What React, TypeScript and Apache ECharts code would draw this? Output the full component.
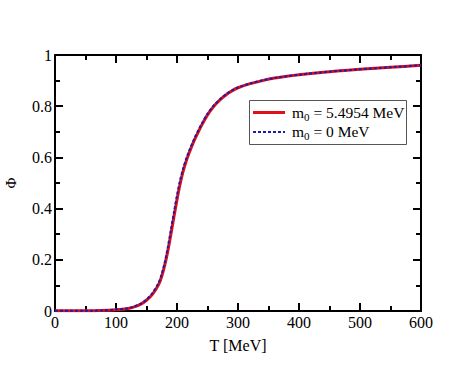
import React, { useEffect, useRef } from "react";
import * as echarts from "echarts";

const temperatures = [0, 25, 50, 75, 100, 120, 130, 140, 150, 160, 170, 175, 180, 185, 190, 195, 200, 205, 210, 215, 220, 225, 230, 235, 240, 250, 260, 270, 280, 290, 300, 320, 340, 360, 380, 400, 450, 500, 550, 600];
const phiMassive = [0.0005, 0.001, 0.001, 0.002, 0.005, 0.010, 0.016, 0.026, 0.042, 0.066, 0.104, 0.136, 0.180, 0.235, 0.30, 0.368, 0.435, 0.495, 0.545, 0.585, 0.618, 0.648, 0.675, 0.70, 0.724, 0.766, 0.799, 0.824, 0.844, 0.86, 0.872, 0.888, 0.90, 0.91, 0.917, 0.923, 0.935, 0.944, 0.952, 0.960];
const phiMassless = [0.0005, 0.001, 0.001, 0.002, 0.006, 0.011, 0.018, 0.028, 0.045, 0.071, 0.111, 0.145, 0.191, 0.25, 0.318, 0.386, 0.452, 0.51, 0.556, 0.594, 0.626, 0.655, 0.682, 0.706, 0.729, 0.770, 0.802, 0.826, 0.846, 0.861, 0.873, 0.889, 0.901, 0.91, 0.917, 0.923, 0.935, 0.944, 0.952, 0.960];
const seriesNames = ["m0 = 5.4954 MeV", "m0 = 0 MeV"];
const legendLabels = ["{a|m}{s|0}{a| = 5.4954 MeV}", "{a|m}{s|0}{a| = 0 MeV}"];
const xTicks = { min: 0, max: 600, interval: 100 };
const yTicks = { min: 0, max: 1, interval: 0.2 };

const FONT = "'Liberation Serif', 'DejaVu Serif', serif";
const RED = "#e0101a";
const BLUE = "#1c1ca8";

export default function App() {
  const ref = useRef<HTMLDivElement>(null);
  useEffect(() => {
    if (!ref.current) return;
    const chart = echarts.init(ref.current, null, { renderer: "svg" });
    const axisCommon = {
      axisLine: { show: true, onZero: false, lineStyle: { color: "#000", width: 2 } },
      axisTick: { show: true, inside: true, length: 8, lineStyle: { color: "#000", width: 2 } },
      minorTick: { show: true, splitNumber: 2, length: 5, lineStyle: { color: "#000", width: 2 } },
      splitLine: { show: false },
      minorSplitLine: { show: false },
    };
    const mk = (a: number[]) => temperatures.map((t, i) => [t, a[i]]);
    const rich = {
      a: { fontFamily: FONT, fontSize: 15.5, color: "#000", lineHeight: 20 },
      s: { fontFamily: FONT, fontSize: 11, color: "#000", lineHeight: 9, verticalAlign: "bottom" },
    };
    chart.setOption({
      animation: false,
      backgroundColor: "#fff",
      grid: { left: 55, right: 53, top: 55, bottom: 55, outerBoundsMode: "none", containLabel: false },
      xAxis: [
        {
          type: "value",
          ...xTicks,
          position: "bottom",
          ...axisCommon,
          name: "T [MeV]",
          nameLocation: "middle",
          nameGap: 26,
          nameTextStyle: { fontFamily: FONT, fontSize: 16, color: "#000" },
          axisLabel: { fontFamily: FONT, fontSize: 16, color: "#000", margin: 3 },
        },
        {
          type: "value",
          ...xTicks,
          position: "top",
          ...axisCommon,
          axisLabel: { show: false },
        },
      ],
      yAxis: [
        {
          type: "value",
          ...yTicks,
          position: "left",
          ...axisCommon,
          name: "Φ",
          nameLocation: "middle",
          nameRotate: 90,
          nameGap: 37,
          nameTextStyle: { fontFamily: FONT, fontSize: 15, color: "#000" },
          axisLabel: {
            fontFamily: FONT,
            fontSize: 16,
            color: "#000",
            margin: 3,
            formatter: (v: number) => String(parseFloat(v.toFixed(1))),
          },
        },
        {
          type: "value",
          ...yTicks,
          position: "right",
          ...axisCommon,
          axisLabel: { show: false },
        },
      ],
      graphic: [
        {
          type: "rect",
          shape: { x: 249.5, y: 100.5, width: 157, height: 44 },
          style: { fill: "#fff", stroke: "#555", lineWidth: 1 },
          z: 100,
        },
        {
          type: "line",
          shape: { x1: 253, y1: 112.5, x2: 285, y2: 112.5 },
          style: { stroke: RED, lineWidth: 3 },
          z: 101,
        },
        {
          type: "line",
          shape: { x1: 253, y1: 132, x2: 285, y2: 132 },
          style: { stroke: BLUE, lineWidth: 2, lineDash: [3, 2] },
          z: 101,
        },
        {
          type: "text",
          x: 292,
          y: 112,
          style: { text: legendLabels[0], rich, verticalAlign: "middle", align: "left" },
          z: 101,
        },
        {
          type: "text",
          x: 292,
          y: 131.5,
          style: { text: legendLabels[1], rich, verticalAlign: "middle", align: "left" },
          z: 101,
        },
      ],
      series: [
        {
          name: seriesNames[0],
          type: "line",
          data: mk(phiMassive),
          showSymbol: false,
          symbol: "none",
          smooth: 0.3,
          lineStyle: { color: RED, width: 3 },
          itemStyle: { color: RED },
        },
        {
          name: seriesNames[1],
          type: "line",
          data: mk(phiMassless),
          showSymbol: false,
          symbol: "none",
          smooth: 0.3,
          lineStyle: { color: BLUE, width: 2, type: [3, 2] },
          itemStyle: { color: BLUE },
        },
      ],
    });
    return () => chart.dispose();
  }, []);
  return (
    <div
      ref={ref}
      style={{ position: "absolute", left: 0, top: 0, width: 474, height: 366 }}
    />
  );
}
